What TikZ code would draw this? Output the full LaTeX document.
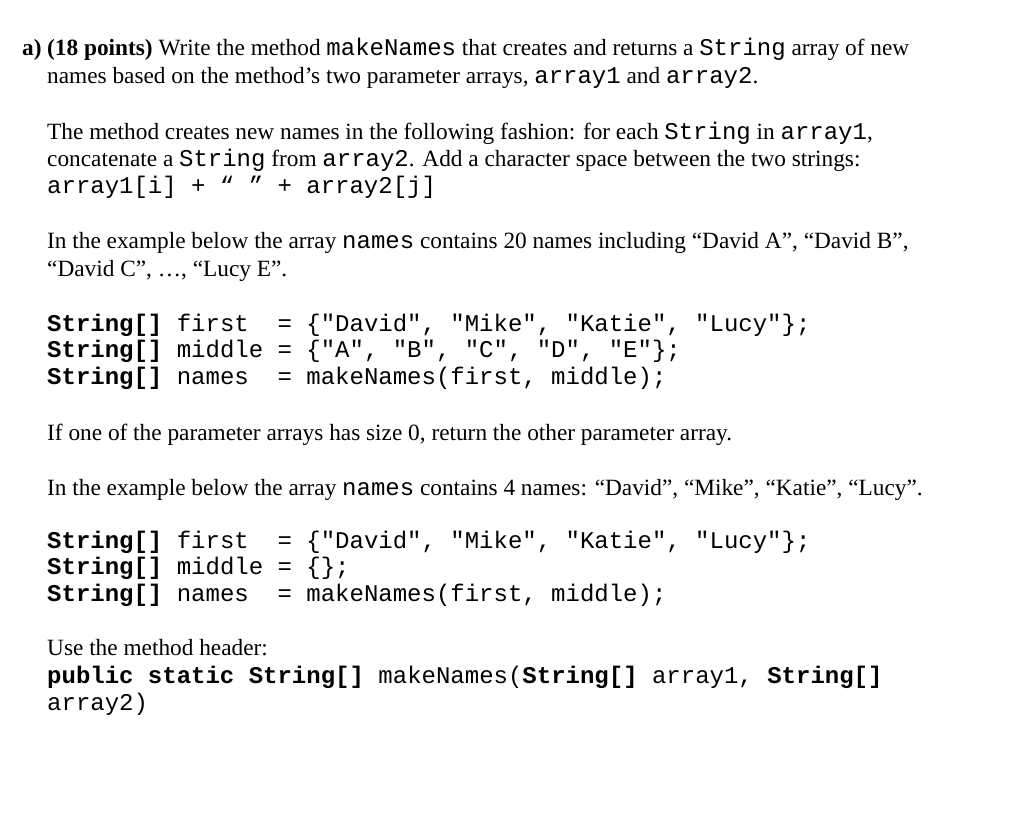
\documentclass[tikz,border=0pt]{standalone}
\usepackage{fontspec}
\setmainfont{Liberation Serif}
\setmonofont{Liberation Mono}
\newcommand{\cc}[1]{{\fontsize{24}{28}\selectfont\ttfamily #1}}
\newcommand{\cb}[1]{{\fontsize{24}{28}\selectfont\ttfamily\bfseries #1}}
\begin{document}
\begin{tikzpicture}[x=1pt,y=-1pt,
  txt/.style={anchor=base west,inner sep=0pt,font=\fontsize{23.3}{28}\selectfont}]
\useasboundingbox (0,0) rectangle (1018,825);
\fill[white] (0,0) rectangle (1018,825);
\node[txt] (l0) at (22,55) {\textbf{a)}};
\node[txt] (l1) at (47,55) {\textbf{(18 points)} Write the method \cc{makeNames} that creates and returns a \cc{String} array of new};
\node[txt] (l2) at (47,83) {names based on the method’s two parameter arrays, \cc{array1} and \cc{array2}.};
\node[txt] (l3) at (47,139) {The method creates new names in the following fashion: for each \cc{String} in \cc{array1},};
\node[txt] (l4) at (47,166) {concatenate a \cc{String} from \cc{array2}. Add a character space between the two strings:};
\node[txt] (l5) at (47,193) {\cc{array1[i] + “ ” + array2[j]}};
\node[txt] (l6) at (47,248) {In the example below the array \cc{names} contains 20 names including “David A”, “David B”,};
\node[txt] (l7) at (47,276) {“David C”, …, “Lucy E”.};
\node[txt] (c1) at (47,331) {\cb{String[]}\cc{ first~~= \{"David", "Mike", "Katie", "Lucy"\};}};
\node[txt] (c2) at (47,357) {\cb{String[]}\cc{ middle = \{"A", "B", "C", "D", "E"\};}};
\node[txt] (c3) at (47,384) {\cb{String[]}\cc{ names~~= makeNames(first, middle);}};
\node[txt] (l8) at (47,440) {If one of the parameter arrays has size 0, return the other parameter array.};
\node[txt] (l9) at (47,495) {In the example below the array \cc{names} contains 4 names: “David”, “Mike”, “Katie”, “Lucy”.};
\node[txt] (d1) at (47,548) {\cb{String[]}\cc{ first~~= \{"David", "Mike", "Katie", "Lucy"\};}};
\node[txt] (d2) at (47,574) {\cb{String[]}\cc{ middle = \{\};}};
\node[txt] (d3) at (47,601) {\cb{String[]}\cc{ names~~= makeNames(first, middle);}};
\node[txt] (l10) at (47,655) {Use the method header:};
\node[txt] (h1) at (47,683) {\cb{public static String[]}\cc{ makeNames(}\cb{String[]}\cc{ array1, }\cb{String[]}};
\node[txt] (h2) at (47,710) {\cc{array2)}};
\end{tikzpicture}
\end{document}
